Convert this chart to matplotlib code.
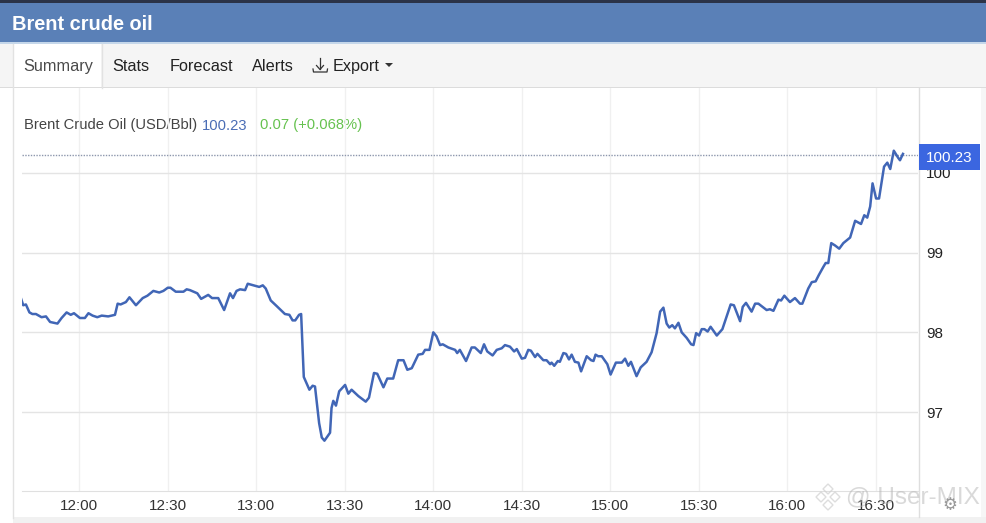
import matplotlib
matplotlib.use('Agg')
import matplotlib.pyplot as plt
from matplotlib.patches import Rectangle, Polygon

plt.rcParams['font.family'] = ['Liberation Sans', 'DejaVu Sans']

# minutes after 12:00
minutes = [-19.7, -18.9, -18.0, -16.8, -15.8, -14.6, -12.7, -11.2, -9.8, -7.3, -5.9, -4.2, -2.8, -1.7,
           0.3, 2.0, 3.2, 4.6, 6.2, 7.7, 9.9, 12.2, 13.1, 14.1, 15.9, 17.1, 19.3, 21.6, 23.2, 25.2,
           27.2, 28.6, 30.1, 31.0, 32.8, 35.4, 36.5, 37.6, 40.1, 41.4, 43.8, 45.1, 47.2, 49.2, 51.2,
           52.2, 53.4, 54.6, 56.3, 57.2, 59.1, 61.1, 62.3, 63.3, 65.0, 67.0, 69.8, 71.3, 72.4, 73.3,
           74.6, 75.3, 76.2, 78.1, 79.2, 80.0, 81.4, 82.3, 83.2, 85.1,
           85.6, 86.2, 87.1, 88.2, 90.2, 91.3, 92.4, 94.7, 97.2, 98.3, 100.0, 101.1, 103.2, 104.5,
           106.5, 108.2, 110.0, 111.3, 112.8, 115.0, 116.5, 117.3, 118.8, 120.1, 121.2, 122.4, 123.3,
           125.2, 127.5, 128.2, 129.1, 131.2, 133.1, 134.2, 136.2, 137.3, 138.4, 140.2, 141.6, 143.3,
           144.4, 146.1, 147.5, 148.4, 150.1, 151.2, 152.3, 153.2, 154.6, 155.4, 157.4, 158.5, 159.7,
           160.2, 161.1, 162.3, 163.0, 164.2, 165.1, 166.1, 167.0, 168.1, 169.3, 170.2, 172.1, 173.6,
           174.4, 175.1, 176.0, 177.2, 179.1, 180.2, 182.0, 184.0, 185.1, 186.2, 187.1, 189.0, 190.4,
           192.4, 194.1, 195.8, 197.0, 198.1, 199.2, 200.1, 201.1, 202.0, 203.2, 204.3, 206.0, 207.5,
           208.3, 209.2, 210.2, 211.1, 212.0, 213.1, 214.1, 216.2, 218.1, 220.9, 222.0, 224.1, 225.0,
           226.1, 228.0, 229.2, 230.3, 233.1, 234.2, 235.4, 237.1, 238.0, 239.1, 241.0, 242.7, 244.4,
           245.2, 247.2, 248.4, 249.7, 250.8, 252.3, 253.1, 254.0, 255.0, 256.3, 257.7, 259.1, 261.4,
           263.1, 265.1, 266.2, 267.2, 268.2, 269.0, 270.2, 271.2, 272.9, 274.0, 275.0, 276.2, 277.7,
           278.3, 279.3]
prices = [98.43, 98.34, 98.35, 98.25, 98.23, 98.23, 98.19, 98.20, 98.13, 98.11, 98.18, 98.25, 98.22, 98.24,
          98.18, 98.18, 98.24, 98.21, 98.19, 98.21, 98.20, 98.22, 98.36, 98.35, 98.38, 98.44, 98.34, 98.43,
          98.46, 98.52, 98.50, 98.52, 98.56, 98.56, 98.51, 98.51, 98.54, 98.53, 98.49, 98.42, 98.47, 98.43,
          98.43, 98.28, 98.49, 98.43, 98.52, 98.54, 98.53, 98.61, 98.59, 98.57, 98.59, 98.55, 98.40, 98.33,
          98.23, 98.22, 98.15, 98.15, 98.22, 98.23, 97.44, 97.28, 97.33, 97.32, 96.86, 96.68, 96.64, 96.74,
          97.05, 97.14, 97.08, 97.26, 97.34, 97.23, 97.28, 97.20, 97.13, 97.18, 97.49, 97.48, 97.31, 97.42,
          97.42, 97.65, 97.65, 97.53, 97.55, 97.72, 97.73, 97.78, 97.78, 98.00, 97.95, 97.84, 97.85,
          97.81, 97.78, 97.74, 97.78, 97.64, 97.81, 97.81, 97.74, 97.85, 97.76, 97.71, 97.78, 97.80,
          97.84, 97.82, 97.76, 97.79, 97.67, 97.68, 97.78, 97.77, 97.69, 97.73, 97.65, 97.65, 97.60,
          97.62, 97.58, 97.64, 97.63, 97.74, 97.73, 97.66, 97.72, 97.63, 97.62, 97.51, 97.70, 97.65,
          97.64, 97.72, 97.70, 97.70, 97.60, 97.47, 97.62, 97.62, 97.67, 97.58, 97.63, 97.45, 97.56,
          97.63, 97.75, 97.99, 98.26, 98.31, 98.11, 98.06, 98.09, 98.05, 98.12, 98.00, 97.93, 97.85,
          97.84, 97.99, 97.96, 98.04, 98.04, 98.01, 98.07, 97.96, 98.04, 98.35, 98.34, 98.14, 98.32,
          98.37, 98.26, 98.36, 98.36, 98.28, 98.29, 98.27, 98.41, 98.40, 98.46, 98.38, 98.43, 98.36,
          98.36, 98.55, 98.63, 98.64, 98.72, 98.82, 98.87, 98.87, 99.12, 99.09, 99.05, 99.12, 99.19,
          99.40, 99.36, 99.47, 99.44, 99.58, 99.87, 99.68, 99.68, 100.08, 100.13, 100.05, 100.28, 100.19,
          100.16, 100.24]

xtick_pos = [0, 30, 60, 90, 120, 150, 180, 210, 240, 270]
xtick_labels = ['12:00', '12:30', '13:00', '13:30', '14:00', '14:30', '15:00', '15:30', '16:00', '16:30']
yticks = [97, 98, 99, 100]
last_price = 100.23
tabs = ['Summary', 'Stats', 'Forecast', 'Alerts', 'Export']
tab_x = [23, 112, 170, 252, 333]

W, H = 986, 523
fig = plt.figure(figsize=(W / 100, H / 100), dpi=100)

# page furniture in pixel coordinates
bg = fig.add_axes([0, 0, 1, 1], zorder=0)
bg.set_xlim(0, W)
bg.set_ylim(H, 0)
bg.axis('off')
bg.add_patch(Rectangle((0, 0), W, 3, color='#2b3347', lw=0))
bg.add_patch(Rectangle((0, 3), W, 39, color='#5a80b7', lw=0))
bg.add_patch(Rectangle((0, 42), W, 1.5, color='#c5d7ea', lw=0))
bg.add_patch(Rectangle((0, 43.5), W, 44, color='#f5f5f5', lw=0))
bg.add_patch(Rectangle((13, 43.5), 88, 45, color='white', lw=0))
bg.add_patch(Rectangle((0, 87), W, 1, color='#dcdcdc', lw=0))
bg.plot([13, 13], [518, 43.5], color='#e2e2e2', lw=1)
bg.plot([101.5, 101.5], [43.5, 87.5], color='#e2e2e2', lw=1)
bg.add_patch(Rectangle((981, 88), 5, 435, color='#f6f6f6', lw=0))
bg.add_patch(Rectangle((13, 517), 973, 6, color='#f1f1f1', lw=0))
bg.plot([918.5, 918.5], [88, 517], color='#dedede', lw=1)

bg.text(12, 30, 'Brent crude oil', color='white', fontsize=14.4, fontweight='bold', va='baseline')
for i, name in enumerate(tabs):
    bg.text(tab_x[i], 71, name, color='#4a4a4a' if i == 0 else '#222222', fontsize=11.7, va='baseline')
# export icon and caret
bg.plot([320, 320], [58, 69], color='#333333', lw=0.9)
bg.plot([316.5, 320, 323.5], [65.5, 69.5, 65.5], color='#333333', lw=0.9)
bg.plot([313, 313.5, 327, 327.5], [69, 72, 72, 69], color='#333333', lw=0.9)
bg.add_patch(Polygon([(385, 63), (393, 63), (389, 67)], color='#333333', lw=0))

bg.text(24, 129.5, 'Brent Crude Oil (USD/Bbl)', color='#444444', fontsize=10.65, va='baseline')
bg.text(202, 129.5, '100.23', color='#4a6db5', fontsize=10.65, va='baseline')
bg.text(260, 129.5, '0.07 (+0.068%)', color='#66c24f', fontsize=10.65, va='baseline')

# chart
ax = fig.add_axes([22 / W, 1 - 491 / H, (918 - 22) / W, (491 - 88) / H], zorder=1)
ax.patch.set_alpha(0)
ax.set_xlim((22 - 79) / 2.95, (918 - 79) / 2.95)
ax.set_ylim(100 - (491 - 173) / 79.67, 100 + (173 - 88) / 79.67)
for side in ['top', 'right', 'left']:
    ax.spines[side].set_visible(False)
ax.spines['bottom'].set_color('#e0e0e0')
ax.yaxis.tick_right()
ax.set_xticks(xtick_pos)
ax.set_xticklabels(xtick_labels)
ax.set_yticks(yticks)
ax.tick_params(axis='x', length=0, pad=6, labelsize=11, labelcolor='#333333')
ax.tick_params(axis='y', length=0, pad=6, labelsize=11, labelcolor='#222222')
ax.grid(axis='x', color='#f0f0f0', lw=1)
ax.grid(axis='y', color='#e4e4e4', lw=1)
ax.set_axisbelow(True)
ax.axhline(last_price, color='#8d97ad', lw=1, ls=(0, (1, 1)))
ax.plot(minutes, prices, color='#4166b6', lw=1.8, solid_joinstyle='round')

# price flag over the right axis
top = fig.add_axes([0, 0, 1, 1], zorder=2)
top.set_xlim(0, W)
top.set_ylim(H, 0)
top.axis('off')
top.add_patch(Rectangle((919, 144), 61, 26, color='#3b66e0', lw=0))
top.text(949.5, 157.5, f'{last_price:.2f}', color='white', fontsize=11, ha='center', va='center')

# watermark and settings gear
top.text(913, 497, '@ User-MIX', color='#b4b4b4', alpha=0.5, fontsize=17.5, ha='center', va='center')
for dx, dy in [(0, -8), (-7, 0), (7, 0), (0, 8)]:
    top.add_patch(Polygon([(828 + dx - 5, 497 + dy), (828 + dx, 497 + dy - 5), (828 + dx + 5, 497 + dy),
                           (828 + dx, 497 + dy + 5)], fill=False, ec='#cfcfcf', lw=1, alpha=0.7))
top.text(950, 505, '\u2699', color='#999999', fontsize=12, ha='center', va='center')

fig.savefig('out.png', dpi=100)
